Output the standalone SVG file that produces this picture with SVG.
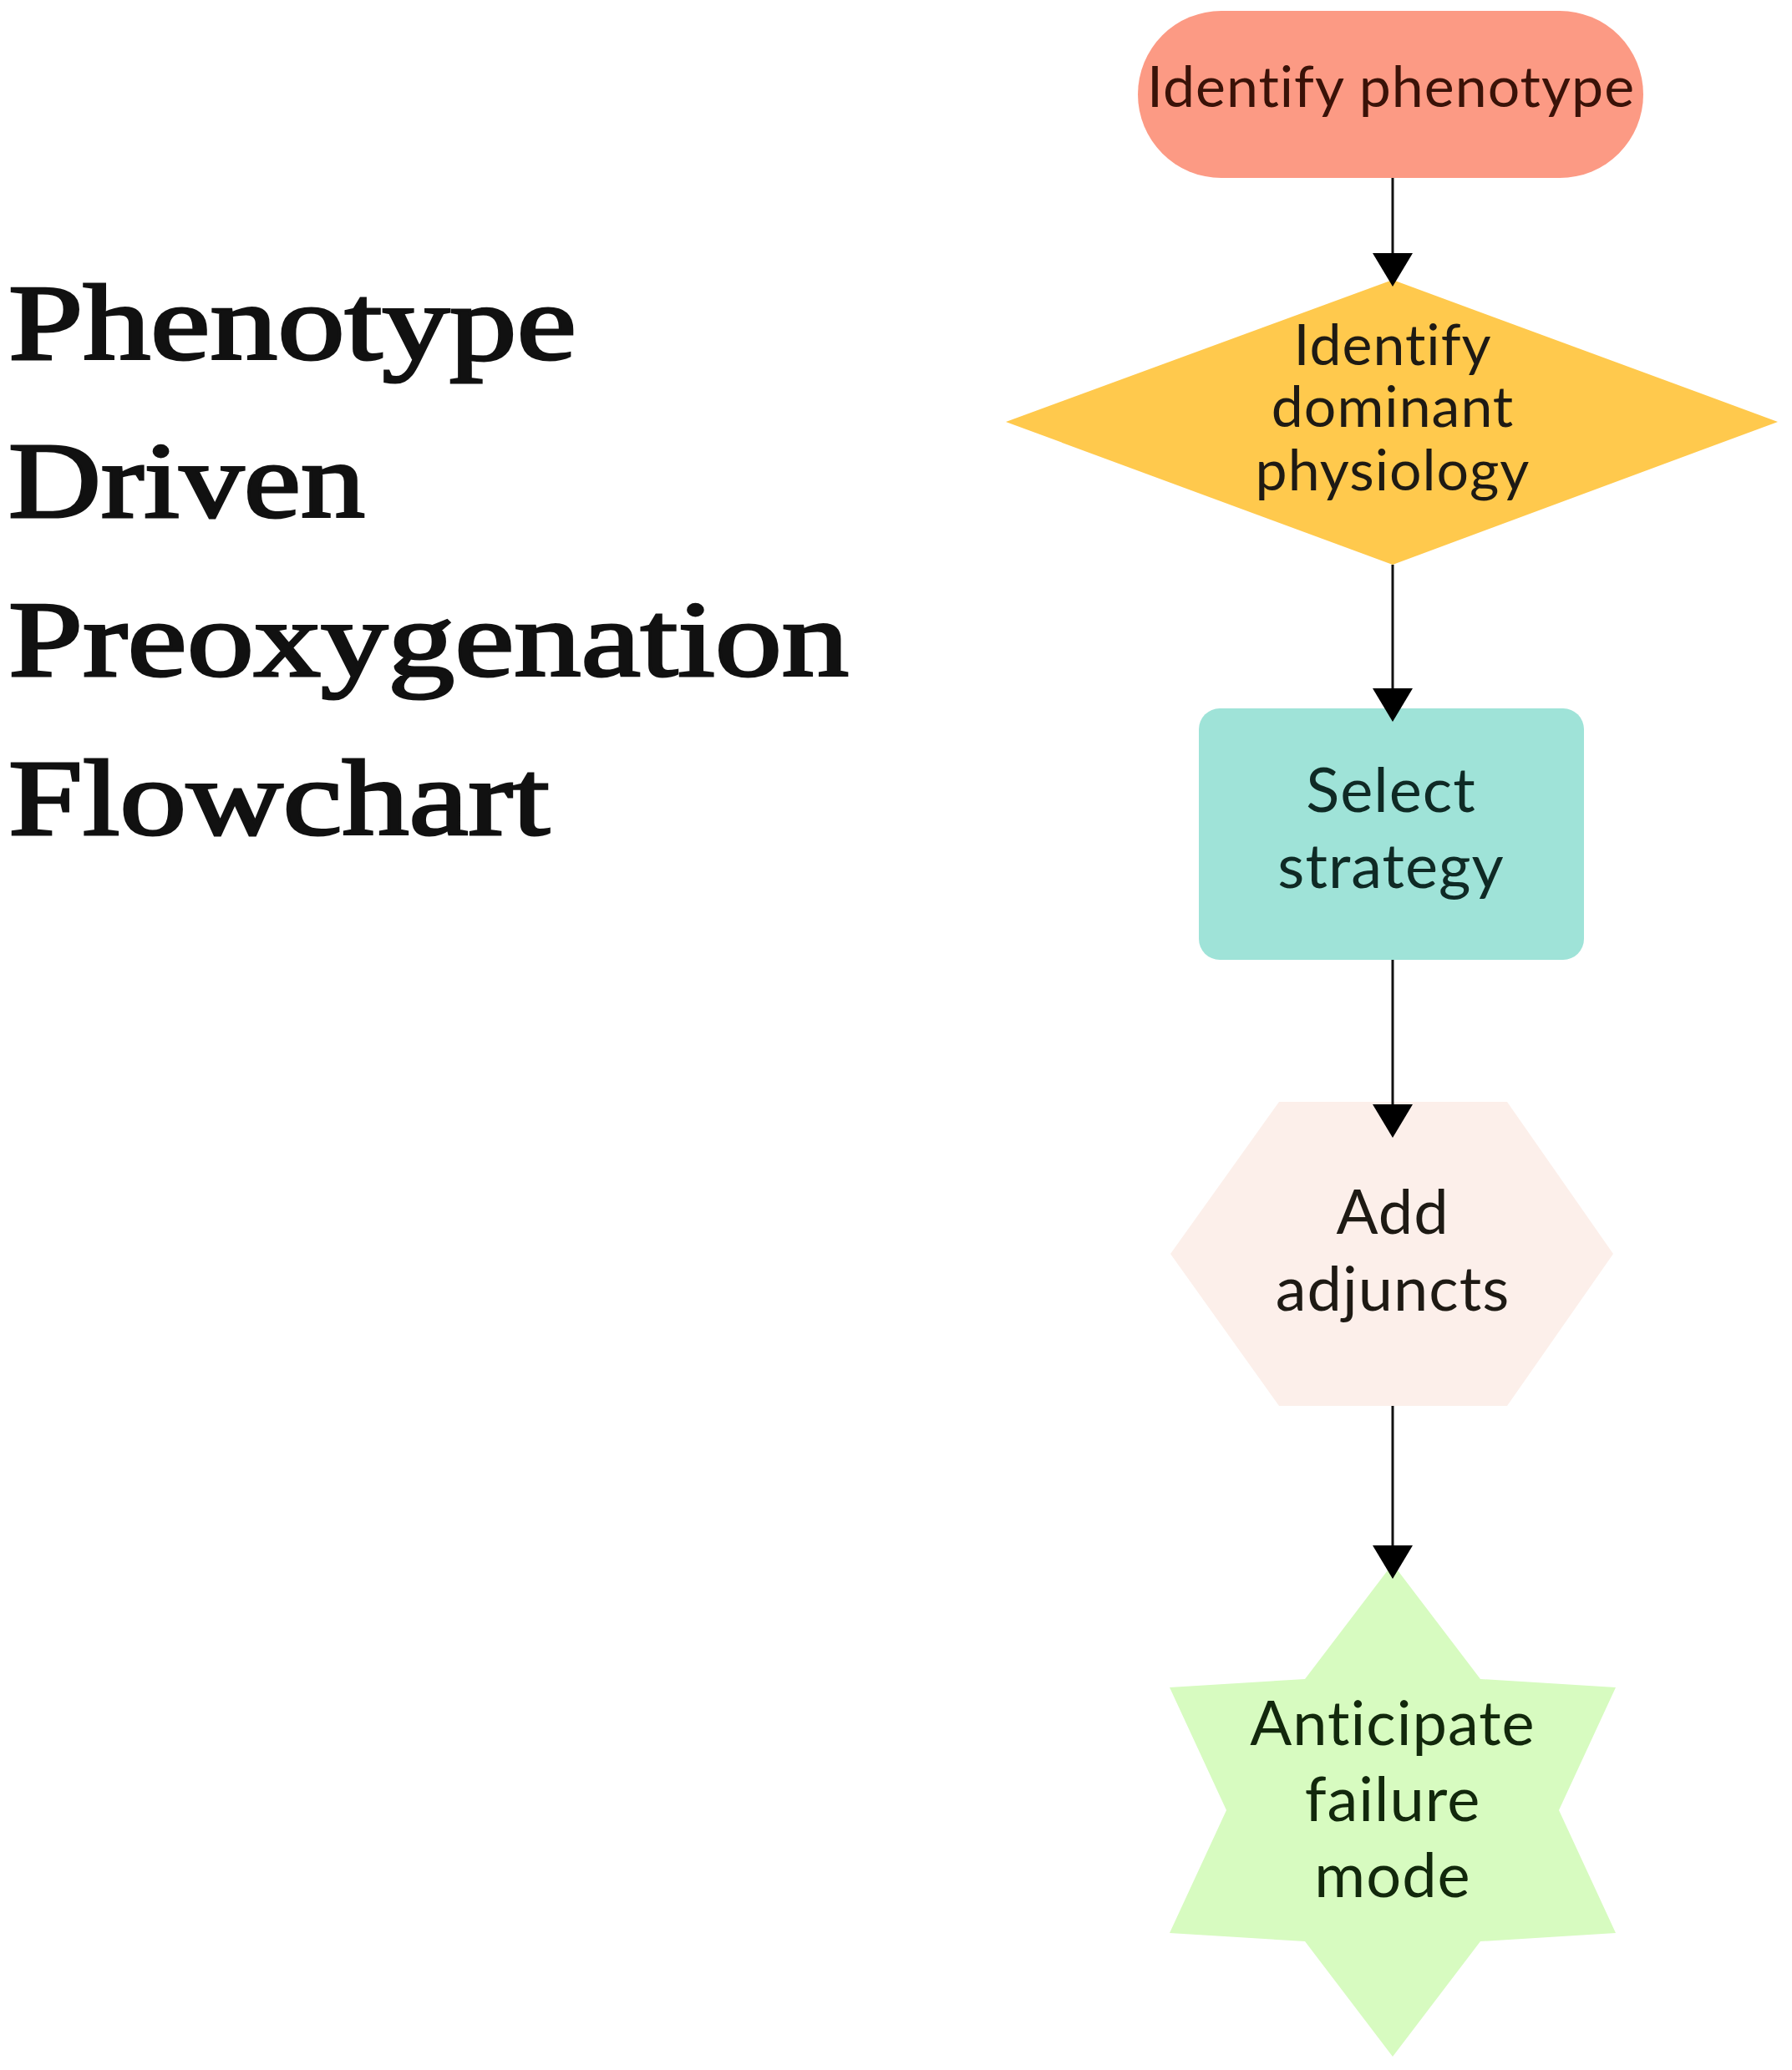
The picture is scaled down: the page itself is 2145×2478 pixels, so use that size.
<svg xmlns="http://www.w3.org/2000/svg" width="2145" height="2478" viewBox="0 0 2145 2478">
<style>
.t{font-family:"Lato","Open Sans",sans-serif;font-size:68px;text-anchor:middle;fill:#1e1a14;letter-spacing:1px}
.b{font-size:74px}
.title{font-family:"Liberation Serif",serif;font-size:130px;fill:#111;stroke:#111;stroke-width:3}
.c{stroke:#111;stroke-width:3;fill:none}
.h{fill:#000}
</style>
<rect width="2145" height="2478" fill="#fff"/>
<g id="title">
<text class="title" x="10" y="430" textLength="680" lengthAdjust="spacingAndGlyphs">Phenotype</text>
<text class="title" x="10" y="619" textLength="427" lengthAdjust="spacingAndGlyphs">Driven</text>
<text class="title" x="10" y="809" textLength="1006" lengthAdjust="spacingAndGlyphs">Preoxygenation</text>
<text class="title" x="10" y="999" textLength="648" lengthAdjust="spacingAndGlyphs">Flowchart</text>
</g>
<g id="n1"><rect x="1362" y="13" width="605" height="200" rx="100" fill="#FC9A84"/><text class="t" x="1665" y="128" style="fill:#3a1208">Identify phenotype</text></g>
<g id="n2"><polygon points="1667,335 2128,505 1667,676 1204,505" fill="#FFC94D"/>
<text class="t" x="1667" y="437">Identify</text><text class="t" x="1667" y="511">dominant</text><text class="t" x="1667" y="587">physiology</text></g>
<g id="n3"><rect x="1435" y="848" width="461" height="301" rx="25" fill="#9FE3D8"/>
<text class="t b" x="1665" y="972" style="fill:#0f2a25">Select</text><text class="t b" x="1665" y="1063" style="fill:#0f2a25">strategy</text></g>
<g id="n4"><polygon points="1531,1319 1804,1319 1931,1501 1804,1683 1531,1683 1401,1501" fill="#FCEFEA"/>
<text class="t b" x="1667" y="1477">Add</text><text class="t b" x="1667" y="1569">adjuncts</text></g>
<g id="n5"><polygon points="1667,1872 1772,2010 1934,2020 1866,2167 1934,2314 1772,2324 1667,2462 1562,2324 1400,2314 1468,2167 1400,2020 1562,2010" fill="#D7FBC0"/>
<text class="t b" x="1667" y="2089" style="fill:#12280c">Anticipate</text><text class="t b" x="1667" y="2180" style="fill:#12280c">failure</text><text class="t b" x="1667" y="2271" style="fill:#12280c">mode</text></g>
<g id="connectors">
<line class="c" x1="1667" y1="213" x2="1667" y2="305"/><path class="h" d="M1643,303 L1691,303 L1667,343 z"/>
<line class="c" x1="1667" y1="676" x2="1667" y2="826"/><path class="h" d="M1643,824 L1691,824 L1667,864 z"/>
<line class="c" x1="1667" y1="1149" x2="1667" y2="1324"/><path class="h" d="M1643,1322 L1691,1322 L1667,1362 z"/>
<line class="c" x1="1667" y1="1683" x2="1667" y2="1852"/><path class="h" d="M1643,1850 L1691,1850 L1667,1890 z"/>
</g>
</svg>
